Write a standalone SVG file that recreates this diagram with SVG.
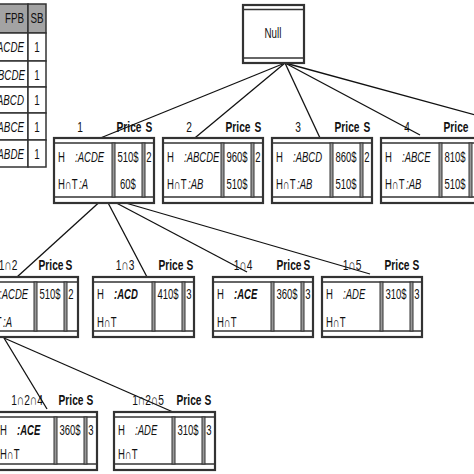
<svg xmlns="http://www.w3.org/2000/svg" width="474" height="474" viewBox="0 0 474 474">
<style>
text{font-family:"Liberation Sans",Arial,sans-serif;fill:#111}
.lbl{font-size:15px}
.t{font-size:14px}
.tt{font-size:14px}
.it{font-style:italic}
.b{font-weight:bold}
.m{text-anchor:middle}
.e{text-anchor:end}
.outer{fill:#fff;stroke:#333;stroke-width:2.2}
.hl{stroke:#333;stroke-width:1.5}
.div{fill:#999;stroke:#333;stroke-width:1}
.cn line{stroke:#111;stroke-width:1.3}
.tb{fill:#fff;stroke:#333;stroke-width:1.5}
.th{fill:#a3a3a3;stroke:#333;stroke-width:1.5}
</style>

<g id="table">
<rect class="th" x="-30" y="4" width="58" height="29"/>
<rect class="th" x="28" y="4" width="18" height="29"/>
<rect class="tb" x="-30" y="33" width="58" height="28"/>
<rect class="tb" x="28" y="33" width="18" height="28"/>
<rect class="tb" x="-30" y="61" width="58" height="26"/>
<rect class="tb" x="28" y="61" width="18" height="26"/>
<rect class="tb" x="-30" y="87" width="58" height="26"/>
<rect class="tb" x="28" y="87" width="18" height="26"/>
<rect class="tb" x="-30" y="113" width="58" height="27"/>
<rect class="tb" x="28" y="113" width="18" height="27"/>
<rect class="tb" x="-30" y="140" width="58" height="27"/>
<rect class="tb" x="28" y="140" width="18" height="27"/>
<g transform="scale(0.7,1)">
<text class="tt e" x="34.3" y="23">FPB</text>
<text class="tt m" x="52.9" y="23">SB</text>
<text class="tt e it" x="34.3" y="52">ACDE</text>
<text class="tt m" x="52.9" y="52">1</text>
<text class="tt e it" x="35.7" y="80">ABCDE</text>
<text class="tt m" x="52.9" y="80">1</text>
<text class="tt e it" x="34.3" y="105">ABCD</text>
<text class="tt m" x="52.9" y="105">1</text>
<text class="tt e it" x="34.3" y="132">ABCE</text>
<text class="tt m" x="52.9" y="132">1</text>
<text class="tt e it" x="34.3" y="159">ABDE</text>
<text class="tt m" x="52.9" y="159">1</text>
</g>
</g>

<g class="cn" id="connectors">
<line x1="285" y1="63" x2="93" y2="141"/>
<line x1="285" y1="63" x2="190" y2="142"/>
<line x1="285" y1="63" x2="320" y2="138"/>
<line x1="285" y1="63" x2="420" y2="135"/>
<line x1="285" y1="63" x2="530" y2="130"/>
<line x1="105" y1="197" x2="17" y2="277"/>
<line x1="105" y1="197" x2="147" y2="277"/>
<line x1="105" y1="197" x2="247" y2="272"/>
<line x1="105" y1="197" x2="370" y2="274"/>
<line x1="4" y1="338" x2="47" y2="409"/>
<line x1="4" y1="338" x2="173" y2="412"/>
</g>

<g id="null">
<rect class="outer" x="243" y="5" width="61" height="58"/>
<line class="hl" x1="243" y1="9.5" x2="304" y2="9.5"/>
<line class="hl" x1="243" y1="58" x2="304" y2="58"/>
<g transform="scale(0.7,1)"><text class="t m" x="390" y="38">Null</text></g>
</g>

<g id="n1" transform="translate(54,138)">
<rect class="outer" x="0" y="0" width="100" height="65"/>
<line class="hl" x1="0" y1="5" x2="100" y2="5"/>
<line class="hl" x1="0" y1="59" x2="100" y2="59"/>
<rect class="div" x="58" y="5" width="3" height="54"/>
<rect class="div" x="88" y="5" width="3" height="54"/>
<g transform="scale(0.68,1)">
<text class="lbl m" x="38.2" y="-6">1</text>
<text class="lbl m b" x="110.3" y="-6">Price</text>
<text class="lbl m b" x="139.7" y="-6">S</text>
<text class="t" x="5.9" y="24">H</text><text class="t it" x="30.9" y="24">:ACDE</text>
<text class="t" x="5.9" y="51">H∩T</text><text class="t it" x="36.8" y="51">:A</text>
<text class="t m" x="108.8" y="24">510$</text><text class="t m" x="108.8" y="51">60$</text>
<text class="t m" x="139.7" y="24">2</text>
</g>
</g>

<g id="n2" transform="translate(163,138)">
<rect class="outer" x="0" y="0" width="100" height="65"/>
<line class="hl" x1="0" y1="5" x2="100" y2="5"/>
<line class="hl" x1="0" y1="59" x2="100" y2="59"/>
<rect class="div" x="58" y="5" width="3" height="54"/>
<rect class="div" x="88" y="5" width="3" height="54"/>
<g transform="scale(0.68,1)">
<text class="lbl m" x="38.2" y="-6">2</text>
<text class="lbl m b" x="110.3" y="-6">Price</text>
<text class="lbl m b" x="139.7" y="-6">S</text>
<text class="t" x="5.9" y="24">H</text><text class="t it" x="30.9" y="24">:ABCDE</text>
<text class="t" x="5.9" y="51">H∩T</text><text class="t it" x="36.8" y="51">:AB</text>
<text class="t m" x="108.8" y="24">960$</text><text class="t m" x="108.8" y="51">510$</text>
<text class="t m" x="139.7" y="24">2</text>
</g>
</g>

<g id="n3" transform="translate(272,138)">
<rect class="outer" x="0" y="0" width="100" height="65"/>
<line class="hl" x1="0" y1="5" x2="100" y2="5"/>
<line class="hl" x1="0" y1="59" x2="100" y2="59"/>
<rect class="div" x="58" y="5" width="3" height="54"/>
<rect class="div" x="88" y="5" width="3" height="54"/>
<g transform="scale(0.68,1)">
<text class="lbl m" x="38.2" y="-6">3</text>
<text class="lbl m b" x="110.3" y="-6">Price</text>
<text class="lbl m b" x="139.7" y="-6">S</text>
<text class="t" x="5.9" y="24">H</text><text class="t it" x="30.9" y="24">:ABCD</text>
<text class="t" x="5.9" y="51">H∩T</text><text class="t it" x="36.8" y="51">:AB</text>
<text class="t m" x="108.8" y="24">860$</text><text class="t m" x="108.8" y="51">510$</text>
<text class="t m" x="139.7" y="24">2</text>
</g>
</g>

<g id="n4" transform="translate(381,138)">
<rect class="outer" x="0" y="0" width="100" height="65"/>
<line class="hl" x1="0" y1="5" x2="100" y2="5"/>
<line class="hl" x1="0" y1="59" x2="100" y2="59"/>
<rect class="div" x="58" y="5" width="3" height="54"/>
<rect class="div" x="88" y="5" width="3" height="54"/>
<g transform="scale(0.68,1)">
<text class="lbl m" x="38.2" y="-6">4</text>
<text class="lbl m b" x="110.3" y="-6">Price</text>
<text class="t" x="5.9" y="24">H</text><text class="t it" x="30.9" y="24">:ABCE</text>
<text class="t" x="5.9" y="51">H∩T</text><text class="t it" x="36.8" y="51">:AB</text>
<text class="t m" x="108.8" y="24">810$</text><text class="t m" x="108.8" y="51">510$</text>
</g>
</g>

<g id="n12" transform="translate(-22,277)">
<rect class="outer" x="0" y="0" width="100" height="60"/>
<line class="hl" x1="0" y1="5" x2="100" y2="5"/>
<line class="hl" x1="0" y1="54" x2="100" y2="54"/>
<rect class="div" x="56" y="5" width="3" height="49"/>
<rect class="div" x="86" y="5" width="3" height="49"/>
<g transform="scale(0.68,1)">
<text class="lbl m" x="44.1" y="-7">1∩2</text>
<text class="lbl m b" x="107.4" y="-7">Price</text>
<text class="lbl m b" x="133.8" y="-7">S</text>
<text class="t" x="5.9" y="22">H</text><text class="t it" x="30.9" y="22">:ACDE</text>
<text class="t" x="5.9" y="50">H∩T</text><text class="t it" x="36.8" y="50">:A</text>
<text class="t m" x="105.9" y="22">510$</text>
<text class="t m" x="136.8" y="22">2</text>
</g>
</g>

<g id="n13" transform="translate(93,277)">
<rect class="outer" x="0" y="0" width="101" height="60"/>
<line class="hl" x1="0" y1="5" x2="101" y2="5"/>
<line class="hl" x1="0" y1="54" x2="101" y2="54"/>
<rect class="div" x="59" y="5" width="3" height="49"/>
<rect class="div" x="89" y="5" width="3" height="49"/>
<g transform="scale(0.68,1)">
<text class="lbl m" x="47.1" y="-7">1∩3</text>
<text class="lbl m b" x="114.7" y="-7">Price</text>
<text class="lbl m b" x="142.6" y="-7">S</text>
<text class="t" x="5.9" y="22">H</text><text class="t it b" x="30.9" y="22">:ACD</text>
<text class="t" x="5.9" y="50">H∩T</text>
<text class="t m" x="110.3" y="22">410$</text>
<text class="t m" x="141.2" y="22">3</text>
</g>
</g>

<g id="n14" transform="translate(213,277)">
<rect class="outer" x="0" y="0" width="100" height="60"/>
<line class="hl" x1="0" y1="5" x2="100" y2="5"/>
<line class="hl" x1="0" y1="54" x2="100" y2="54"/>
<rect class="div" x="58" y="5" width="3" height="49"/>
<rect class="div" x="88" y="5" width="3" height="49"/>
<g transform="scale(0.68,1)">
<text class="lbl m" x="44.1" y="-7">1∩4</text>
<text class="lbl m b" x="111.8" y="-7">Price</text>
<text class="lbl m b" x="138.2" y="-7">S</text>
<text class="t" x="5.9" y="22">H</text><text class="t it b" x="30.9" y="22">:ACE</text>
<text class="t" x="5.9" y="50">H∩T</text>
<text class="t m" x="108.8" y="22">360$</text>
<text class="t m" x="139.7" y="22">3</text>
</g>
</g>

<g id="n15" transform="translate(322,277)">
<rect class="outer" x="0" y="0" width="100" height="60"/>
<line class="hl" x1="0" y1="5" x2="100" y2="5"/>
<line class="hl" x1="0" y1="54" x2="100" y2="54"/>
<rect class="div" x="58" y="5" width="3" height="49"/>
<rect class="div" x="88" y="5" width="3" height="49"/>
<g transform="scale(0.68,1)">
<text class="lbl m" x="44.1" y="-7">1∩5</text>
<text class="lbl m b" x="110.3" y="-7">Price</text>
<text class="lbl m b" x="138.2" y="-7">S</text>
<text class="t" x="5.9" y="22">H</text><text class="t it" x="30.9" y="22">:ADE</text>
<text class="t" x="5.9" y="50">H∩T</text>
<text class="t m" x="108.8" y="22">310$</text>
<text class="t m" x="139.7" y="22">3</text>
</g>
</g>

<g id="n124" transform="translate(-4,412)">
<rect class="outer" x="0" y="0" width="101" height="58"/>
<line class="hl" x1="0" y1="5" x2="101" y2="5"/>
<line class="hl" x1="0" y1="52" x2="101" y2="52"/>
<rect class="div" x="58" y="5" width="3" height="47"/>
<rect class="div" x="88" y="5" width="3" height="47"/>
<g transform="scale(0.68,1)">
<text class="lbl m" x="45.6" y="-7">1∩2∩4</text>
<text class="lbl m b" x="110.3" y="-7">Price</text>
<text class="lbl m b" x="138.2" y="-7">S</text>
<text class="t" x="5.9" y="23">H</text><text class="t it b" x="30.9" y="23">:ACE</text>
<text class="t" x="5.9" y="47">H∩T</text>
<text class="t m" x="108.8" y="23">360$</text>
<text class="t m" x="139.7" y="23">3</text>
</g>
</g>

<g id="n125" transform="translate(114,412)">
<rect class="outer" x="0" y="0" width="101" height="58"/>
<line class="hl" x1="0" y1="5" x2="101" y2="5"/>
<line class="hl" x1="0" y1="52" x2="101" y2="52"/>
<rect class="div" x="58" y="5" width="3" height="47"/>
<rect class="div" x="88" y="5" width="3" height="47"/>
<g transform="scale(0.68,1)">
<text class="lbl m" x="50" y="-7">1∩2∩5</text>
<text class="lbl m b" x="110.3" y="-7">Price</text>
<text class="lbl m b" x="138.2" y="-7">S</text>
<text class="t" x="5.9" y="23">H</text><text class="t it" x="30.9" y="23">:ADE</text>
<text class="t" x="5.9" y="47">H∩T</text>
<text class="t m" x="108.8" y="23">310$</text>
<text class="t m" x="139.7" y="23">3</text>
</g>
</g>
</svg>
